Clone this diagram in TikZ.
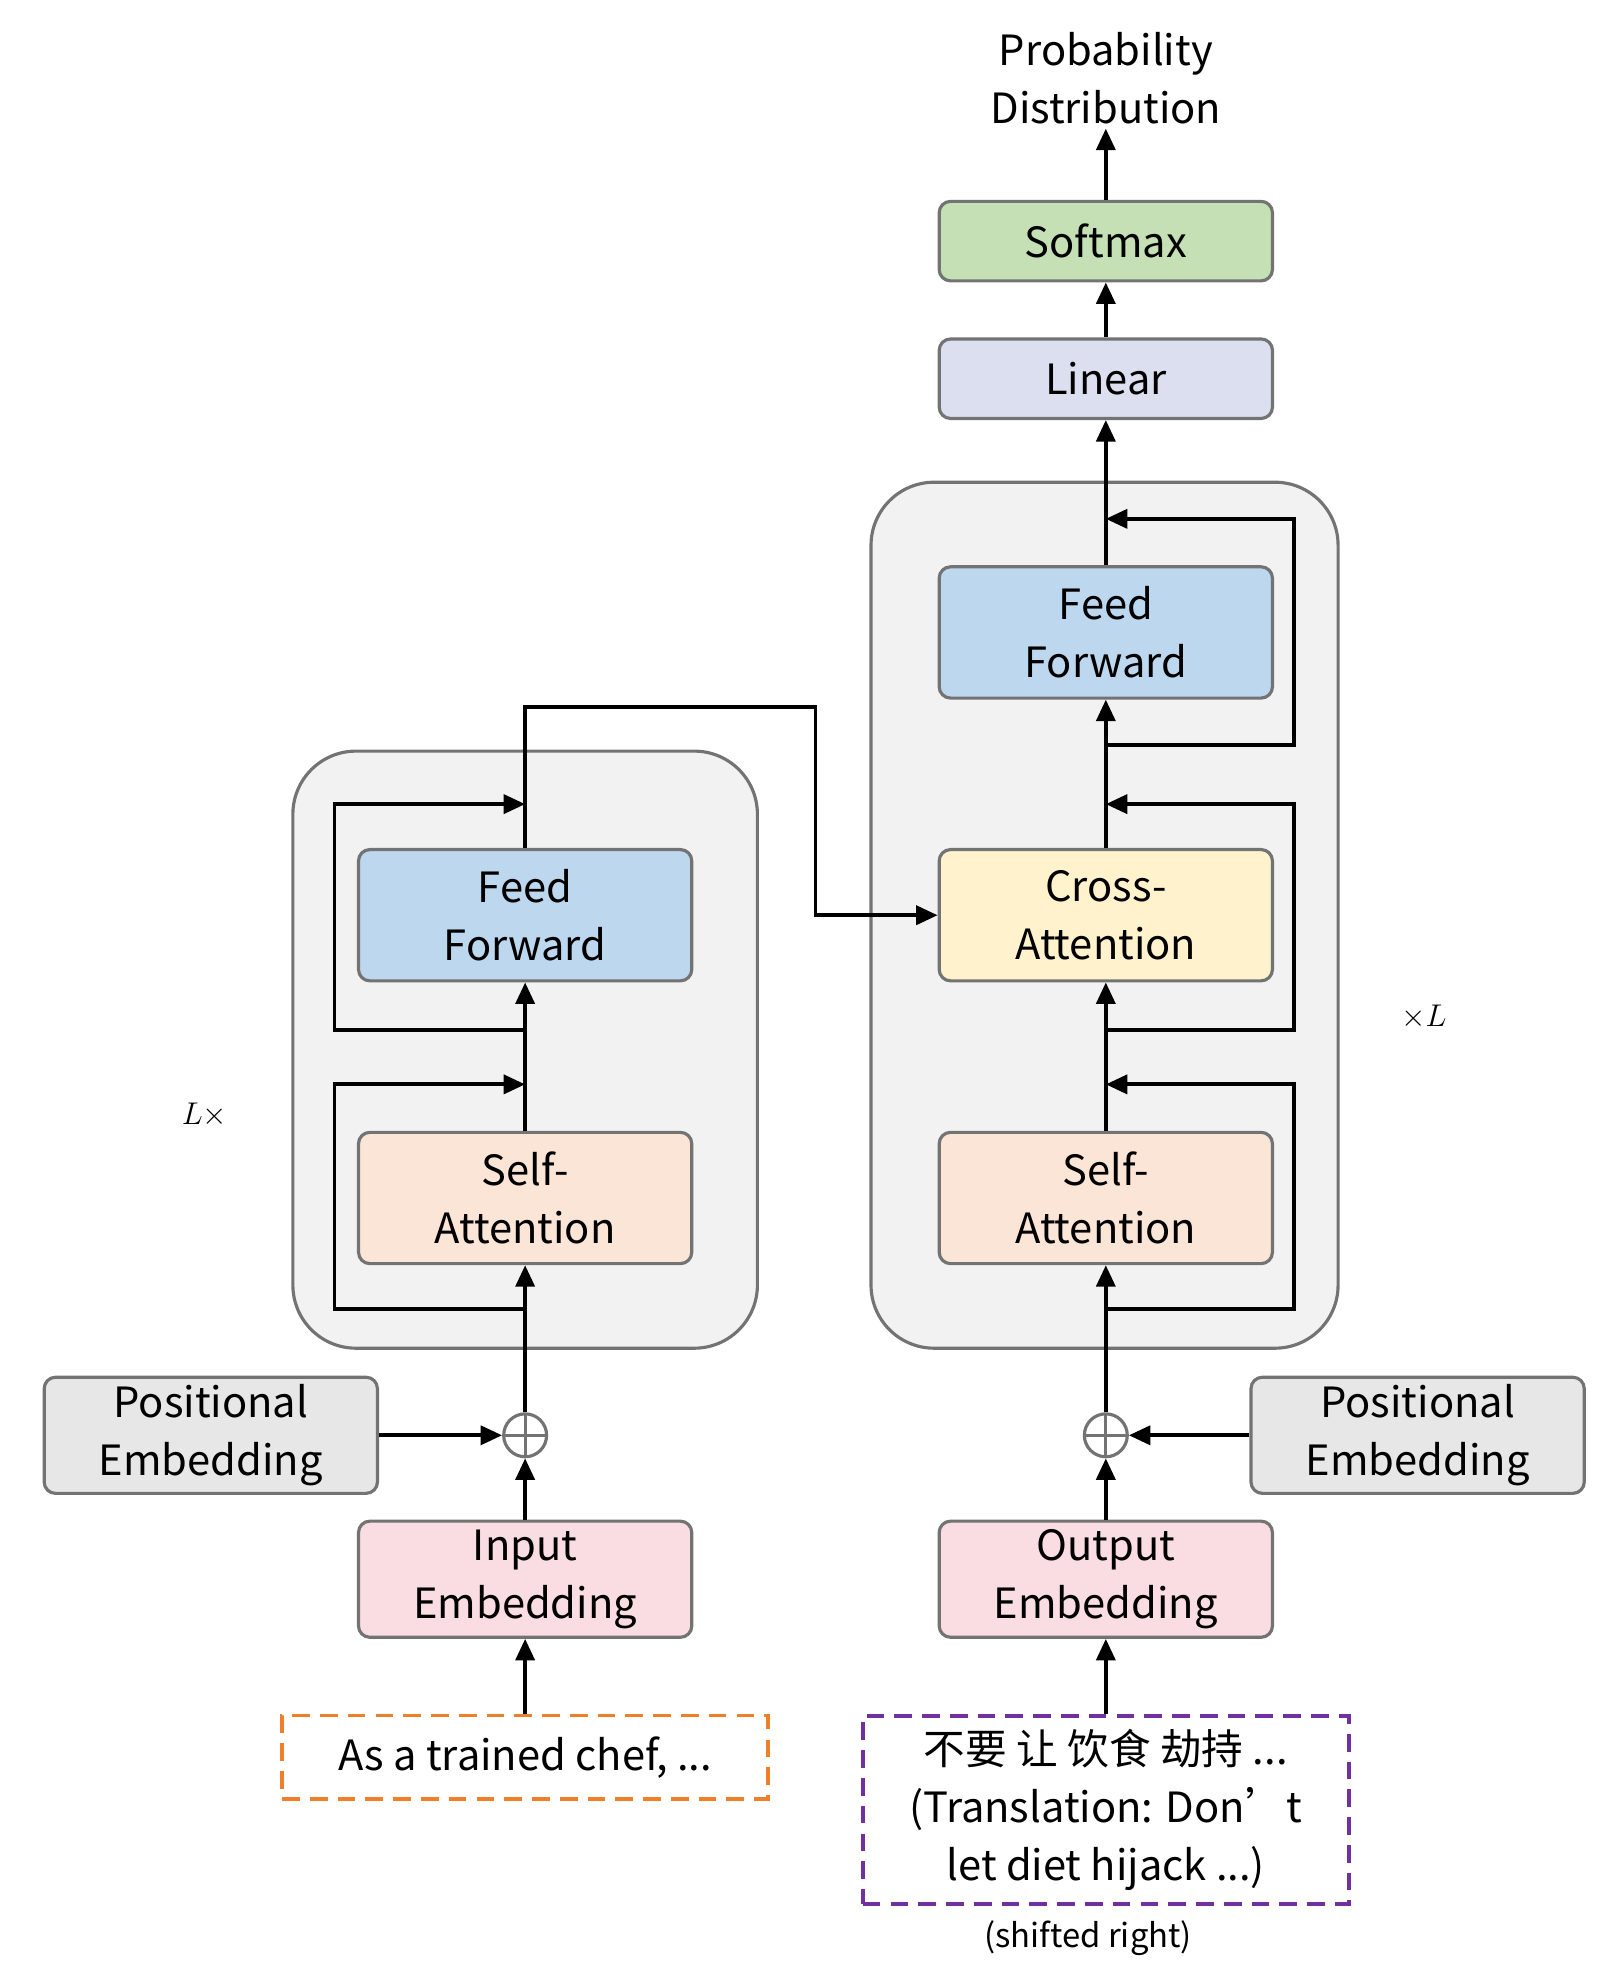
\documentclass[tikz,border=0pt]{standalone}
\usepackage{fontspec}
\setmainfont{Noto Sans CJK SC}
\usetikzlibrary{arrows.meta}
\begin{document}
\begin{tikzpicture}[x=1pt,y=-1pt,
 box/.style={draw=black!55,line width=2.5pt,rounded corners=9pt,minimum width=264pt,align=center,font=\fontsize{33}{46}\selectfont,inner sep=0pt},
 cont/.style={draw=black!55,line width=2.5pt,rounded corners=50pt,fill=black!5},
 ln/.style={line width=3pt},
 ar/.style={ln,-{Triangle[length=17pt,width=15pt]}},
 txt/.style={font=\fontsize{33}{46}\selectfont,align=center}]
\useasboundingbox (0,0) rectangle (1280,1559);
\definecolor{ffc}{HTML}{BDD7EE}\definecolor{sac}{HTML}{FBE5D6}
\definecolor{emc}{HTML}{F9DDE2}\definecolor{pec}{HTML}{E7E7E7}
\definecolor{smc}{HTML}{C5E0B4}\definecolor{lic}{HTML}{DCDFF0}
\definecolor{cac}{HTML}{FFF2CC}\definecolor{orc}{HTML}{F07F2A}\definecolor{puc}{HTML}{7030A0}
\draw[cont] (232,595) rectangle (600,1068);
\draw[cont] (690,382) rectangle (1060,1068);
% left
\node[box,fill=ffc,minimum height=104pt] (lff) at (416,725) {Feed\\Forward};
\node[box,fill=sac,minimum height=104pt] (lsa) at (416,949) {Self-\\Attention};
\node[box,fill=emc,minimum height=92pt] (ie) at (416,1251) {Input\\Embedding};
\node[box,fill=pec,minimum height=92pt] (lpe) at (167,1137) {Positional\\Embedding};
\node[draw=black!55,line width=2.5pt,circle,minimum size=34pt,inner sep=0pt] (lp) at (416,1137) {};
\draw[black!55,line width=2.5pt] (399,1137)--(433,1137) (416,1120)--(416,1154);
\node[draw=orc,dashed,dash pattern=on 14pt off 8pt,line width=3pt,minimum width=385pt,minimum height=66pt,txt] (in) at (416,1392) {As a trained chef, ...};
% right
\node[txt] (prob) at (876,62) {Probability\\Distribution};
\node[box,fill=smc,minimum height=63pt] (sm) at (876,191) {Softmax};
\node[box,fill=lic,minimum height=63pt] (li) at (876,300) {Linear};
\node[box,fill=ffc,minimum height=104pt] (rff) at (876,501) {Feed\\Forward};
\node[box,fill=cac,minimum height=104pt] (ca) at (876,725) {Cross-\\Attention};
\node[box,fill=sac,minimum height=104pt] (rsa) at (876,949) {Self-\\Attention};
\node[box,fill=emc,minimum height=92pt] (oe) at (876,1251) {Output\\Embedding};
\node[box,fill=pec,minimum height=92pt] (rpe) at (1123,1137) {Positional\\Embedding};
\node[draw=black!55,line width=2.5pt,circle,minimum size=34pt,inner sep=0pt] (rp) at (876,1137) {};
\draw[black!55,line width=2.5pt] (859,1137)--(893,1137) (876,1120)--(876,1154);
\node[draw=puc,dashed,dash pattern=on 14pt off 8pt,line width=3pt,minimum width=385pt,minimum height=149pt,txt] (out) at (876,1434) {不要 让 饮食 劫持 ...\\(Translation: Don’t\\let diet hijack ...)};
\node[font=\fontsize{26}{30}\selectfont] (sr) at (862,1535) {(shifted right)};
\node[font=\fontsize{36}{40}\selectfont] (l1) at (162,883) {$L\times$};
\node[font=\fontsize{36}{40}\selectfont] (l2) at (1128,806) {$\times L$};
% arrows left
\draw[ar] (in.north) -- (ie.north|-ie.south);
\draw[ar] (ie) -- (lp.south);
\draw[ar] (lpe.east) -- (lp.west);
\draw[ar] (lp.north) -- (lsa.south);
\draw[ar] (lsa.north) -- (lff.south);
\coordinate (a1) at (416,1037);\coordinate (a2) at (416,859);
\draw[ar] (a1) -| (265,859) -- (a2);
\coordinate (b1) at (416,816);\coordinate (b2) at (416,637);
\draw[ar] (b1) -| (265,637) -- (b2);
\draw[ar] (lff.north) |- (646,560) |- (ca.west);
% arrows right
\draw[ar] (out.north) -- (oe.south);
\draw[ar] (oe) -- (rp.south);
\draw[ar] (rpe.west) -- (rp.east);
\draw[ar] (rp.north) -- (rsa.south);
\draw[ar] (rsa.north) -- (ca.south);
\draw[ar] (ca.north) -- (rff.south);
\draw[ar] (rff.north) -- (li.south);
\draw[ar] (li.north) -- (sm.south);
\draw[ar] (sm.north) -- (prob.south);
\coordinate (c1) at (876,1037);\coordinate (c2) at (876,859);
\draw[ar] (c1) -| (1025,859) -- (c2);
\coordinate (d1) at (876,816);\coordinate (d2) at (876,637);
\draw[ar] (d1) -| (1025,637) -- (d2);
\coordinate (e1) at (876,590);\coordinate (e2) at (876,411);
\draw[ar] (e1) -| (1025,411) -- (e2);
\end{tikzpicture}
\end{document}
